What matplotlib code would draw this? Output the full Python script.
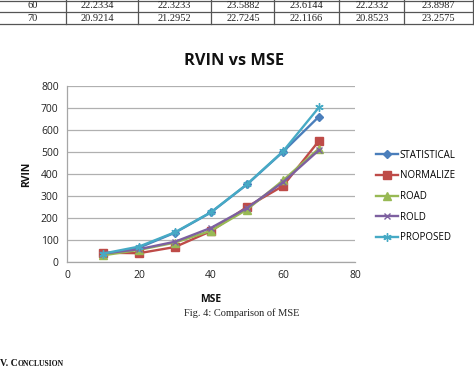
import matplotlib
matplotlib.use('Agg')
import matplotlib.pyplot as plt
from matplotlib.lines import Line2D

# table rows shown above the chart
table_rows = ["60", "70"]
table_vals = [
    ["22.2334", "22.3233", "23.5882", "23.6144", "22.2332", "23.8987"],
    ["20.9214", "21.2952", "22.7245", "22.1166", "20.8523", "23.2575"],
]

# chart data
mse = [10, 20, 30, 40, 50, 60, 70]
statistical = [35, 65, 133, 225, 352, 500, 660]
normalize = [42, 40, 68, 140, 250, 345, 550]
road = [30, 55, 88, 142, 238, 370, 515]
rold = [38, 58, 92, 155, 245, 362, 508]
proposed = [38, 70, 135, 226, 353, 502, 702]

W, H = 474, 367
fig = plt.figure(figsize=(W / 100, H / 100), dpi=100)

def fx(px):
    return px / W

def fy(py):
    return 1 - py / H

# ---- table fragment ----
line_col = '#555555'
for yy in [0.5, 12.3, 24.3]:
    fig.add_artist(Line2D([0, 1], [fy(yy), fy(yy)], color=line_col, lw=0.9))
for xx in [65.7, 138.3, 211, 274, 339, 404, 472.7]:
    fig.add_artist(Line2D([fx(xx), fx(xx)], [fy(0), fy(24.3)], color=line_col, lw=0.9))
col_x = [33, 97, 174, 243, 306, 372, 438]
row_y = [5.5, 18.5]
for r, lab in enumerate(table_rows):
    cells = [lab] + table_vals[r]
    for c, txt in enumerate(cells):
        fig.text(fx(col_x[c]), fy(row_y[r]), txt, ha='center', va='center',
                 family='Liberation Serif', fontsize=7.5, color='#222222')

# ---- chart ----
ax = fig.add_axes([fx(67), fy(262), fx(355) - fx(67), fy(85.7) - fy(262)])
font = 'Open Sans'
series = [
    ("STATISTICAL", statistical, '#4A7EBB', 'D', 4),
    ("NORMALIZE", normalize, '#BE4B48', 's', 5.5),
    ("ROAD", road, '#98B954', '^', 5.5),
    ("ROLD", rold, '#7D60A0', 'x', 5),
    ("PROPOSED", proposed, '#46AAC5', (6, 2, 0), 6),
]
for name, vals, col, mk, ms in series:
    ax.plot(mse, vals, color=col, lw=1.7, marker=mk, markersize=ms,
            markeredgewidth=1.0, label=name)

ax.set_xlim(0, 80)
ax.set_ylim(0, 800)
ax.set_xticks(range(0, 81, 20))
ax.set_yticks(range(0, 801, 100))
ax.grid(axis='y', color='#B0B0B0', lw=0.9)
ax.set_axisbelow(True)
for s in ['top', 'right']:
    ax.spines[s].set_visible(False)
for s in ['left', 'bottom']:
    ax.spines[s].set_color('#A6A6A6')
    ax.spines[s].set_linewidth(0.9)
ax.tick_params(length=0, labelsize=7.5, labelcolor='#222222', pad=6)
for lab in ax.get_xticklabels() + ax.get_yticklabels():
    lab.set_family(font)

fig.text(fx(234.5), fy(61), "RVIN vs MSE", ha='center', va='center',
         family=font, fontweight='bold', fontsize=11.8, color='#111111')
fig.text(fx(27), fy(174), "RVIN", ha='center', va='center', rotation=90,
         family=font, fontweight='bold', fontsize=7.5, color='#111111')
fig.text(fx(211), fy(300), "MSE", ha='center', va='center',
         family=font, fontweight='bold', fontsize=7.5, color='#111111')

leg = fig.legend(loc='center left', bbox_to_anchor=(fx(376), fy(196.5)),
                 frameon=False, borderpad=0, borderaxespad=0,
                 handlelength=2.3, handletextpad=0.15, labelspacing=1.0,
                 prop={'family': font, 'size': 7})

# caption and next heading
fig.text(fx(242), fy(313.5), "Fig. 4: Comparison of MSE", ha='center', va='center',
         family='Liberation Serif', fontsize=7.5, color='#222222')
fig.text(fx(0), fy(363.5), "V. C", ha='left', va='center',
         family='Liberation Serif', fontweight='bold', fontsize=7, color='#111111')
fig.text(fx(17.5), fy(363.8), "ONCLUSION", ha='left', va='center',
         family='Liberation Serif', fontweight='bold', fontsize=5.5, color='#111111')

fig.savefig('out.png', dpi=100)
